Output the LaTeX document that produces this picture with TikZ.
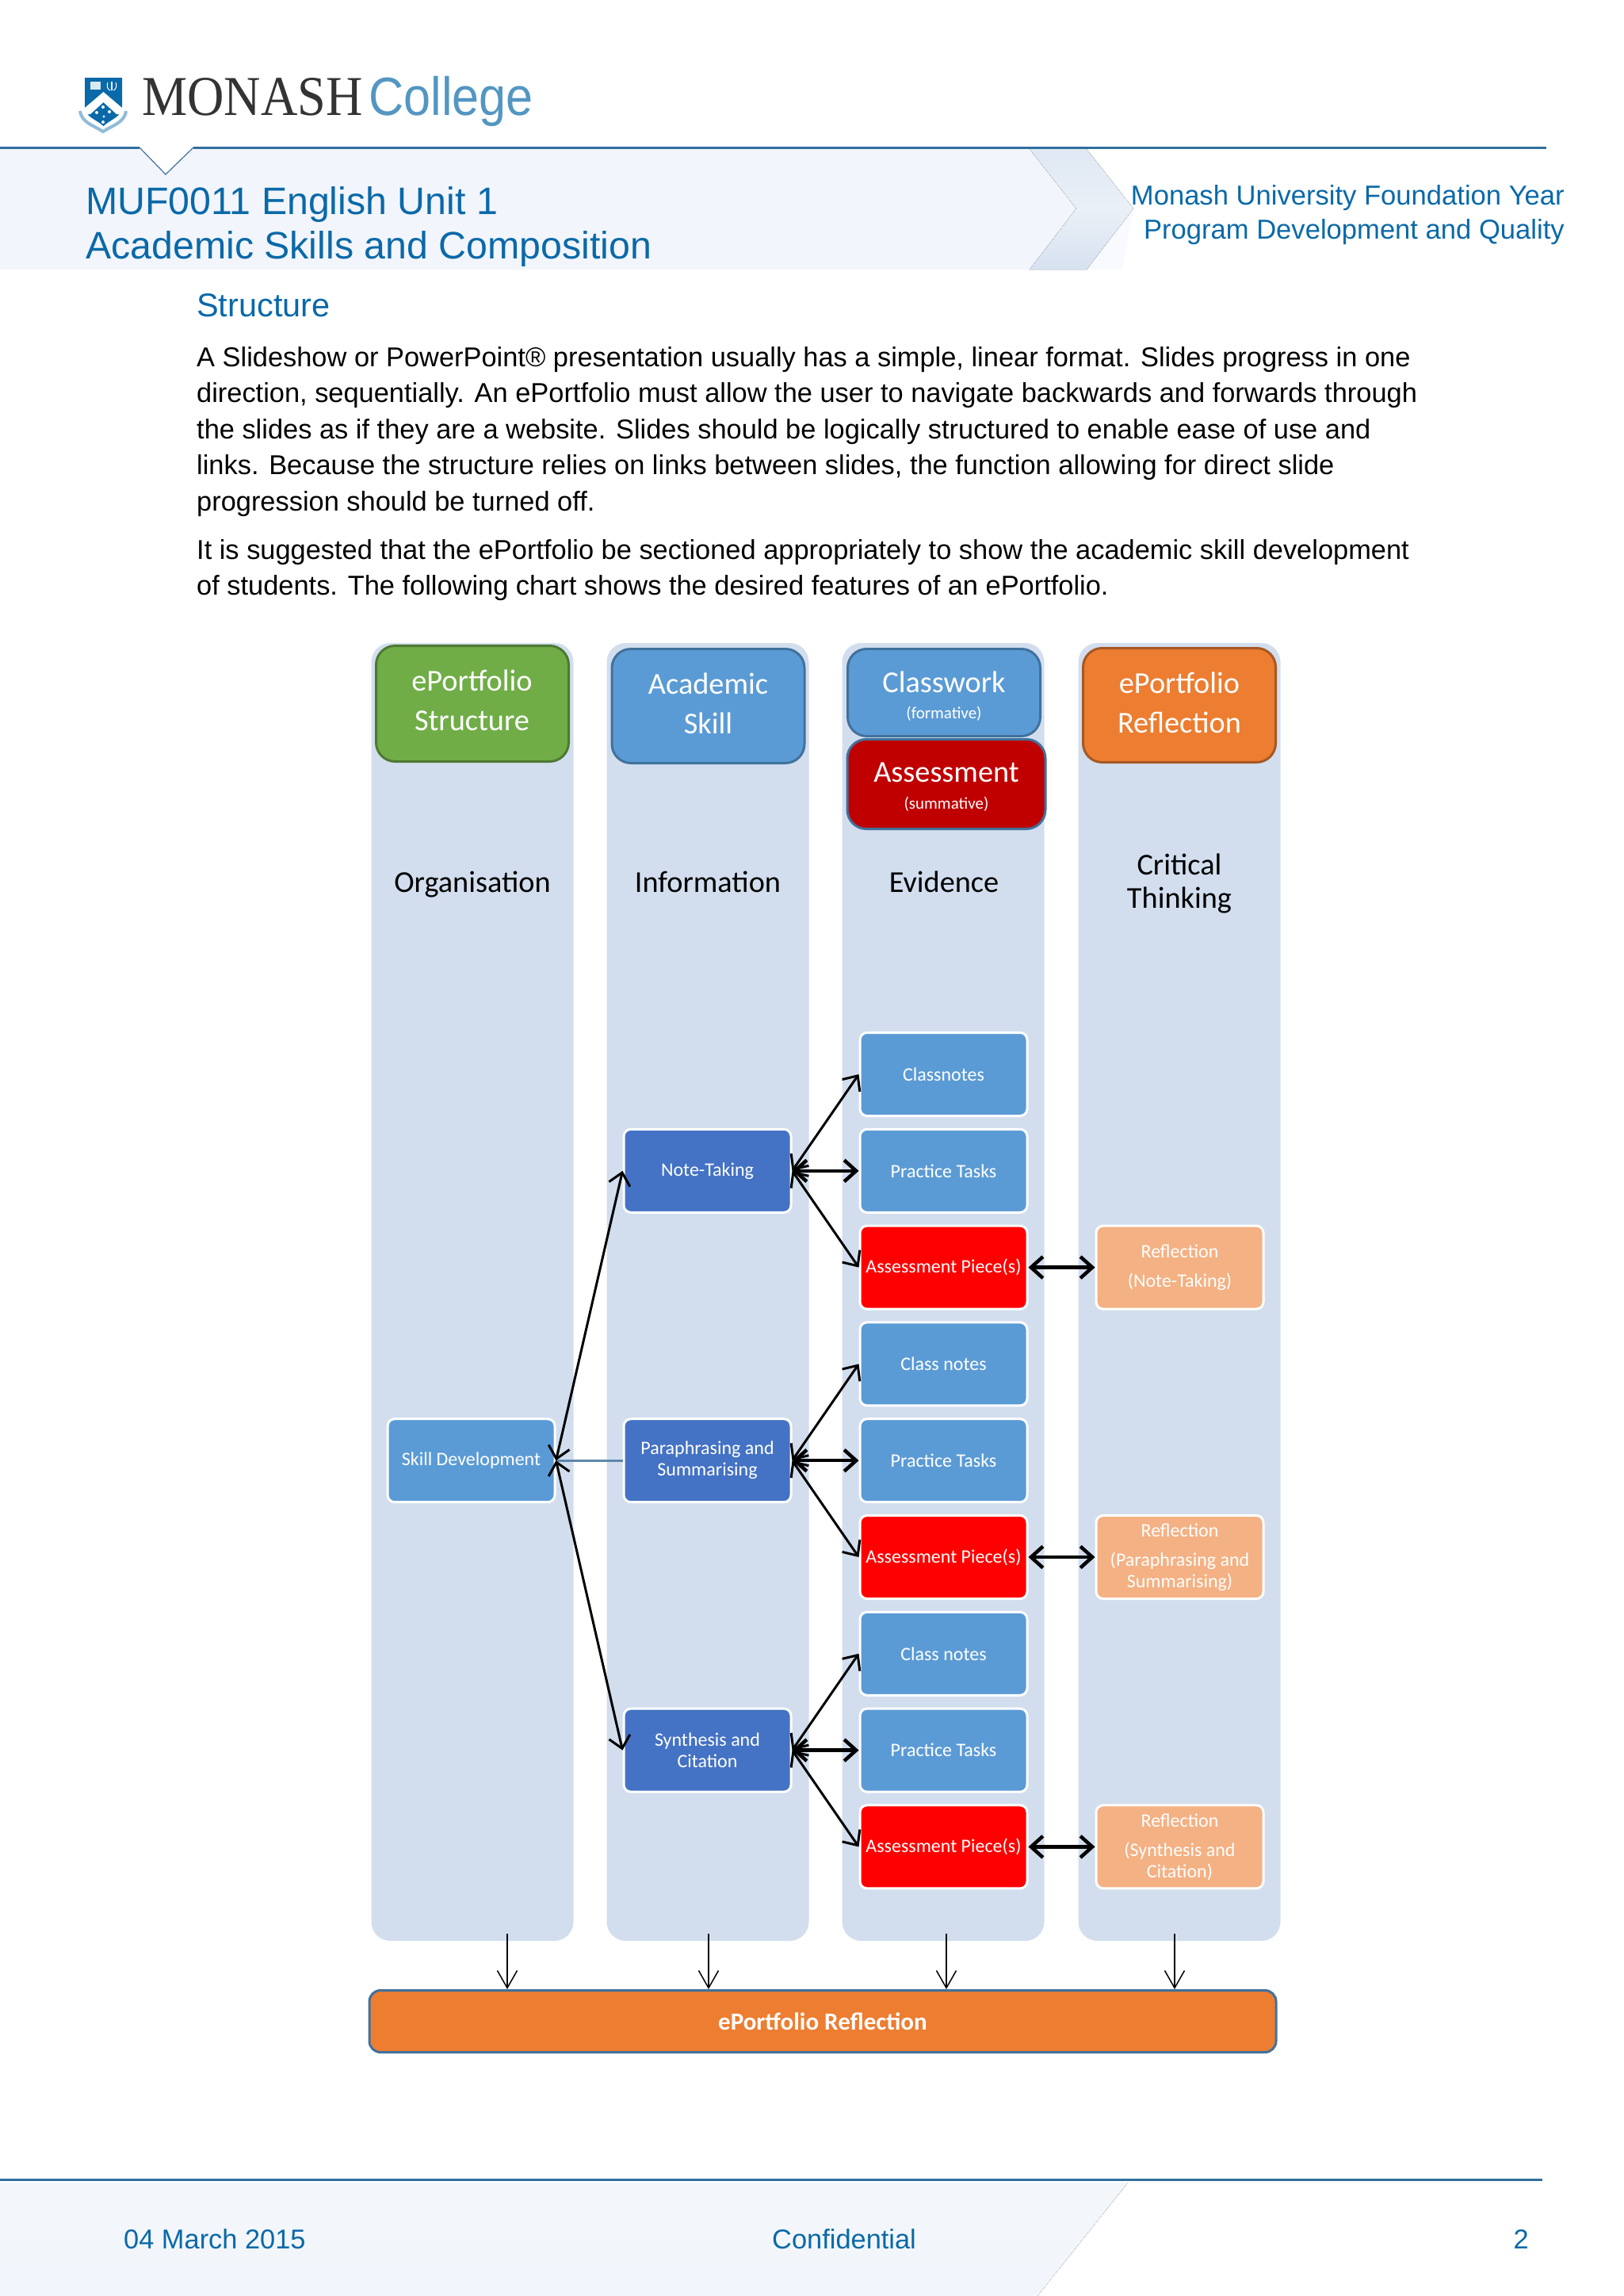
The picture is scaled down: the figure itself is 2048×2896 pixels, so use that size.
\documentclass[tikz,border=0pt]{standalone}
\usepackage{fontspec}
\setmainfont{Liberation Sans}
\newfontfamily\calibrifont{Carlito}
\newfontfamily\crestfont[FakeStretch=0.905]{Liberation Serif}
\newfontfamily\collegefont[FakeStretch=0.9]{Liberation Sans}
\usetikzlibrary{arrows.meta,positioning}
\definecolor{monashblue}{HTML}{0A69A8}
\definecolor{bandblue}{HTML}{F2F5FB}
\definecolor{footblue}{HTML}{F3F7FA}
\definecolor{columnblue}{HTML}{D2DEEE}
\definecolor{headgreen}{HTML}{70AD47}
\definecolor{headblue}{HTML}{5B9BD5}
\definecolor{headorange}{HTML}{ED7D31}
\definecolor{headred}{HTML}{C00000}
\definecolor{stepdark}{HTML}{4472C4}
\definecolor{stepred}{HTML}{FF0000}
\definecolor{steppeach}{HTML}{F4B183}
\definecolor{edgeblue}{HTML}{41719C}
\tikzset{
	auto,
	bigcolumn/.style={
		rectangle, rounded corners=24pt, fill=columnblue,
		minimum width=255pt, minimum height=1637pt, inner sep=0pt
	},
	%
	headbox/.style={
		rectangle, rounded corners=24pt, line width=3pt,
		minimum width=243pt, inner sep=0pt
	},
	%
	headtext/.style={
		align=center, inner sep=0pt, text=white,
		font=\calibrifont\fontsize{38.3}{50}\selectfont
	},
	%
	stepbox/.style={
		rectangle, rounded corners=9pt, line width=3pt, draw=white, text=white,
		minimum width=211pt, minimum height=105pt, align=center, inner sep=0pt,
		font=\calibrifont\fontsize{24}{27}\selectfont
	},
	%
	collabel/.style={
		align=center, inner sep=0pt, text=black,
		font=\calibrifont\fontsize{38.3}{42}\selectfont
	},
	%
	pagetext/.style={
		inner sep=0pt, text=monashblue
	},
	%
	bodytext/.style={
		anchor=north west, inner sep=0pt, align=left,
		font=\fontsize{34.4}{45.5}\selectfont
	},
	%
	>={Straight Barb[length=15pt,width=27pt]}
}
\begin{document}
\begin{tikzpicture}[x=1pt,y=-1pt,node distance=13.8pt]
\useasboundingbox (0,0) rectangle (2048,2896);
%page header
\fill[bandblue] (0,188) -- (1371,188) -- (1358,263) -- (1371,340) -- (0,340) -- cycle;
\fill[white] (176,186) -- (209,220) -- (244,186) -- cycle;
\fill[bandblue!50!white] (1371,340) -- (1416,340) -- (1430,263) -- cycle;
\fill[top color=columnblue!70,bottom color=columnblue!45] (1299,188) -- (1371,188) -- (1430,263) -- (1358,263) -- cycle;
\fill[top color=columnblue!45,bottom color=columnblue!90] (1358,263) -- (1430,263) -- (1371,340) -- (1299,340) -- cycle;
\draw[line width=3pt,color=edgeblue!70!monashblue] (0,186) -- (176,186);
\draw[line width=3pt,color=edgeblue!70!monashblue] (244,186) -- (1951,186);
\draw[line width=1.2pt,color=edgeblue] (176,186) -- (209,220) -- (244,186);
%logo
\draw[monashblue!45,line width=4pt] (101,140) .. controls (103,155) and (118,158) .. (130,166) .. controls (142,158) and (157,155) .. (159,140);
\fill[monashblue] (107,98) -- (154,98) -- (154,134) .. controls (154,148) and (140,150) .. (130.5,159) .. controls (121,150) and (107,148) .. (107,134) -- cycle;
\fill[white] (107,136) -- (130.5,116) -- (154,136) -- (154,144) -- (147,144) -- (130.5,129) -- (114,144) -- (107,144) -- cycle;
\fill[white!85!monashblue] (114,103) rectangle (127,113);
\draw[white,line width=1.5pt] (141,103) -- (141,114);
\draw[white,line width=1pt] (136,104) .. controls (134,109) and (136,113) .. (139,114);
\draw[white,line width=1pt] (146,104) .. controls (148,109) and (146,113) .. (143,114);
\fill[white] (130,135) circle (2pt);
\fill[white] (122,142) circle (2pt);
\fill[white] (138,141) circle (2pt);
\fill[white] (131,147) circle (1.6pt);
\fill[white] (130,154) circle (2pt);
\node (crest) [anchor=base west,inner sep=0pt,text=black!80] at (179,145) {\crestfont\fontsize{71}{71}\selectfont MONASH};
\node (college) [anchor=base west,inner sep=0pt,text=monashblue!70] at (465,145) {\collegefont\fontsize{68}{68}\selectfont College};
%titles
\node (title1) [pagetext,anchor=base west] at (108,270) {\fontsize{48.3}{48}\selectfont MUF0011 English Unit 1};
\node (title2) [pagetext,anchor=base west] at (108,326) {\fontsize{48.3}{48}\selectfont Academic Skills and Composition};
\node (unit1) [pagetext,anchor=base east] at (1974,258) {\fontsize{34.6}{36}\selectfont Monash University Foundation Year};
\node (unit2) [pagetext,anchor=base east] at (1974,301) {\fontsize{34.6}{36}\selectfont Program Development and Quality};
\node (section) [pagetext,anchor=base west] at (248,399) {\fontsize{41.5}{42}\selectfont Structure};
%body text
\node (para1) [bodytext] at (248,437) {A Slideshow or PowerPoint® presentation usually has a simple, linear format. Slides progress in one\\
direction, sequentially. An ePortfolio must allow the user to navigate backwards and forwards through\\
the slides as if they are a website. Slides should be logically structured to enable ease of use and\\
links. Because the structure relies on links between slides, the function allowing for direct slide\\
progression should be turned off.};
\node (para2) [bodytext] at (248,680) {It is suggested that the ePortfolio be sectioned appropriately to show the academic skill development\\
of students. The following chart shows the desired features of an ePortfolio.};

%columns
\node (colA) [bigcolumn] at (596,1629.5) {};
\node (colB) [bigcolumn] at (893,1629.5) {};
\node (colC) [bigcolumn] at (1190,1629.5) {};
\node (colD) [bigcolumn] at (1488,1629.5) {};

%column heads
\node (headA) [headbox,fill=headgreen,draw=headgreen!70!black,minimum height=146pt] at (596,887.5) {};
\node (headB) [headbox,fill=headblue,draw=edgeblue,minimum height=144pt] at (893.5,890.5) {};
\node (headC) [headbox,fill=headblue,draw=edgeblue,minimum height=110pt] at (1191,873.5) {};
\node (headE) [headbox,fill=headred,draw=edgeblue,minimum width=250pt,minimum height=113pt] at (1194,989) {};
\node (headD) [headbox,fill=headorange,draw=headorange!70!black,minimum height=144pt] at (1488,889.5) {};

\node (headAtext) [headtext] at (595.5,883.5) {ePortfolio\\Structure};
\node (headBtext) [headtext] at (893.5,887) {Academic\\Skill};
\node (headCtext) [headtext] at (1191,878.5) {Classwork\\[-17pt]{\fontsize{21}{24}\selectfont (formative)}};
\node (headEtext) [headtext] at (1194,992.5) {Assessment\\[-15.5pt]{\fontsize{21}{24}\selectfont (summative)}};
\node (headDtext) [headtext] at (1488,886) {ePortfolio\\Reflection};

\node (labelA) [collabel,anchor=base] at (596,1125) {Organisation};
\node (labelB) [collabel,anchor=base] at (893,1125) {Information};
\node (labelC) [collabel,anchor=base] at (1191,1125) {Evidence};
\node (labelD) [collabel] at (1488,1114) {Critical\\Thinking};

%evidence boxes
\node (notesA) [stepbox,fill=headblue] at (1190.5,1355) {Classnotes};
\node (taskA) [stepbox,fill=headblue,below=of notesA] {Practice Tasks};
\node (pieceA) [stepbox,fill=stepred,below=of taskA] {Assessment Piece(s)};
\node (notesB) [stepbox,fill=headblue,below=of pieceA] {Class notes};
\node (taskB) [stepbox,fill=headblue,below=of notesB] {Practice Tasks};
\node (pieceB) [stepbox,fill=stepred,below=of taskB] {Assessment Piece(s)};
\node (notesC) [stepbox,fill=headblue,below=of pieceB] {Class notes};
\node (taskC) [stepbox,fill=headblue,below=of notesC] {Practice Tasks};
\node (pieceC) [stepbox,fill=stepred,below=of taskC] {Assessment Piece(s)};

%skills
\node (noteSkill) [stepbox,fill=stepdark,left=84pt of taskA] {Note-Taking};
\node (paraSkill) [stepbox,fill=stepdark,left=84pt of taskB] {Paraphrasing and\\Summarising};
\node (synthSkill) [stepbox,fill=stepdark,left=84pt of taskC] {Synthesis and\\Citation};
\node (skillDev) [stepbox,fill=headblue,left=84pt of paraSkill] {Skill Development};

%reflections
\node (reflectA) [stepbox,fill=steppeach,right=84pt of pieceA] {Reflection\\[10pt](Note-Taking)};
\node (reflectB) [stepbox,fill=steppeach,right=84pt of pieceB] {Reflection\\[10pt](Paraphrasing and\\Summarising)};
\node (reflectC) [stepbox,fill=steppeach,right=84pt of pieceC] {Reflection\\[10pt](Synthesis and\\Citation)};

%final bar
\node (finalBar) [rectangle,rounded corners=14pt,line width=3pt,fill=headorange,draw=edgeblue,text=white,
	minimum width=1144pt,minimum height=78pt,inner sep=0pt,
	font=\calibrifont\bfseries\fontsize{31}{32}\selectfont] at (1038,2549.5) {ePortfolio Reflection};

%arrows
\draw[line width=3pt,color=edgeblue!85] (skillDev) to (paraSkill);
\draw[line width=3pt,<->] (skillDev.east) to (noteSkill.west);
\draw[line width=3pt,<->] (skillDev.east) to (synthSkill.west);

\draw[line width=3pt,<->] (noteSkill.east) to (notesA.west);
\draw[line width=4.5pt,<->] (noteSkill.east) to (taskA.west);
\draw[line width=3pt,<->] (noteSkill.east) to (pieceA.west);
\draw[line width=4.5pt,<->] (pieceA.east) to (reflectA.west);

\draw[line width=3pt,<->] (paraSkill.east) to (notesB.west);
\draw[line width=4.5pt,<->] (paraSkill.east) to (taskB.west);
\draw[line width=3pt,<->] (paraSkill.east) to (pieceB.west);
\draw[line width=4.5pt,<->] (pieceB.east) to (reflectB.west);

\draw[line width=3pt,<->] (synthSkill.east) to (notesC.west);
\draw[line width=4.5pt,<->] (synthSkill.east) to (taskC.west);
\draw[line width=3pt,<->] (synthSkill.east) to (pieceC.west);
\draw[line width=4.5pt,<->] (pieceC.east) to (reflectC.west);

\coordinate (dropA) at (640,2439);
\coordinate (dropB) at (894,2439);
\coordinate (dropC) at (1194,2439);
\coordinate (dropD) at (1482,2439);
\draw[line width=1.5pt,->,>={Straight Barb[length=22pt,width=25pt]}] (dropA) to (dropA |- finalBar.north);
\draw[line width=1.5pt,->,>={Straight Barb[length=22pt,width=25pt]}] (dropB) to (dropB |- finalBar.north);
\draw[line width=1.5pt,->,>={Straight Barb[length=22pt,width=25pt]}] (dropC) to (dropC |- finalBar.north);
\draw[line width=1.5pt,->,>={Straight Barb[length=22pt,width=25pt]}] (dropD) to (dropD |- finalBar.north);

%page footer
\fill[top color=footblue,bottom color=bandblue] (0,2753) -- (1423,2753) -- (1309,2896) -- (0,2896) -- cycle;
\draw[line width=3pt,color=edgeblue!70!monashblue] (0,2749) -- (1946,2749);
\node (dateText) [pagetext,anchor=base west] at (156,2836) {\fontsize{34.4}{36}\selectfont 04 March 2015};
\node (confText) [pagetext,anchor=base west] at (974,2836) {\fontsize{34.4}{36}\selectfont Confidential};
\node (pageNum) [pagetext,anchor=base east] at (1929,2836) {\fontsize{34.4}{36}\selectfont 2};
\end{tikzpicture}
\end{document}
